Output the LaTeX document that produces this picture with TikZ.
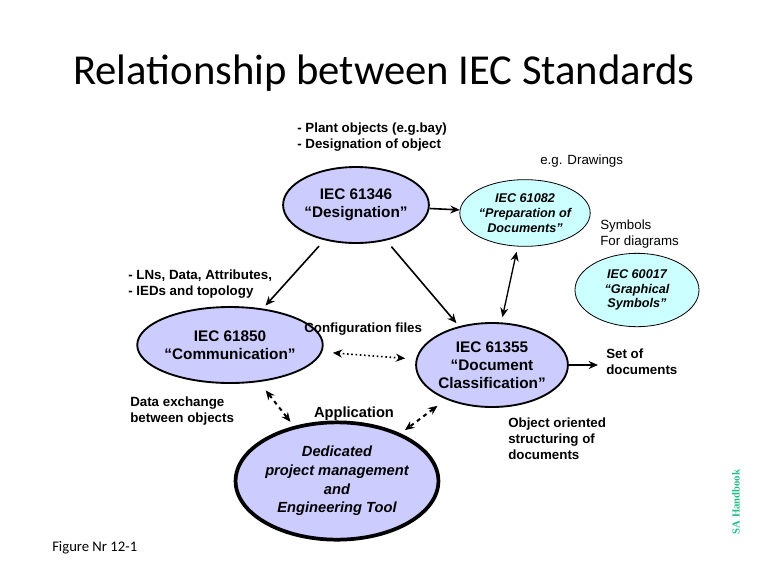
\documentclass[tikz,border=0pt]{standalone}
\usepackage{fontspec}
\setmainfont{Liberation Sans}
\newfontfamily\titlefont{Carlito}
\newfontfamily\serifb{Liberation Serif}
\usetikzlibrary{shapes.geometric,arrows.meta}
\begin{document}
\begin{tikzpicture}[x=0.75pt,y=-0.75pt,
  ell/.style={ellipse,draw,fill=lav,line width=1.4pt,align=center,inner sep=0pt,font=\bfseries\fontsize{11.5}{13.5}\selectfont},
  cyan/.style={ellipse,draw,fill=lcyan,line width=0.6pt,align=center,inner sep=0pt,font=\bfseries\itshape\fontsize{9.5}{11}\selectfont},
  lbl/.style={align=left,anchor=north west,inner sep=0pt,font=\bfseries\fontsize{10}{12}\selectfont},
  arr/.style={-{Stealth[length=7pt,width=6pt]},line width=1.2pt},
  darr/.style={{Stealth[length=7pt,width=6pt]}-{Stealth[length=7pt,width=6pt]},line width=1.2pt}]
\definecolor{lav}{HTML}{CCCCFF}
\definecolor{lcyan}{HTML}{CCFFFF}
\definecolor{sagreen}{HTML}{22BB88}
\useasboundingbox (0,0) rectangle (768,576);
\node (title) at (384,73) {\titlefont\fontsize{32}{36}\selectfont Relationship between IEC Standards};
\node[ell,minimum width=102pt,minimum height=57pt] (e1) at (356,205) {IEC 61346\\“Designation”};
\node[cyan,minimum width=90pt,minimum height=50pt] (e2) at (525,213) {IEC 61082\\“Preparation of\\Documents”};
\node[cyan,minimum width=93pt,minimum height=55pt] (e3) at (637,290) {IEC 60017\\“Graphical\\Symbols”};
\node[ell,minimum width=102pt,minimum height=57pt] (e4) at (230,345) {IEC 61850\\“Communication”};
\node[ell,minimum width=112pt,minimum height=63pt] (e5) at (492,365) {IEC 61355\\“Document\\Classification”};
\node[ell,line width=2.8pt,minimum width=140pt,minimum height=88pt,font=\bfseries\itshape\fontsize{11}{14}\selectfont] (e6) at (337,481) {Dedicated\\project management\\and\\Engineering Tool};
\node[lbl] (t1) at (297,123) {- Plant objects (e.g.bay)\\- Designation of object};
\node[lbl,font=\fontsize{10}{12}\selectfont] (t2) at (540,155) {e.g. Drawings};
\node[lbl,font=\fontsize{10}{12}\selectfont] (t3) at (600,220) {Symbols\\For diagrams};
\node[lbl] (t4) at (128,270) {- LNs, Data, Attributes,\\- IEDs and topology};
\node[lbl] (t5) at (304,323) {Configuration files};
\node[lbl] (t6) at (606,349) {Set of\\documents};
\node[lbl] (t7) at (130,397) {Data exchange\\between objects};
\node[font=\bfseries\fontsize{11}{12}\selectfont] (t8) at (354,414) {Application};
\node[lbl] (t9) at (508,418) {Object oriented\\structuring of\\documents};
\node[anchor=west,inner sep=0pt] (fig) at (52,548) {\titlefont\fontsize{11}{13}\selectfont Figure Nr 12-1};
\node[rotate=90,text=sagreen,font=\serifb\bfseries\fontsize{8}{9}\selectfont] (sa) at (736,502) {SA Handbook};
\coordinate (setp) at (598,365);
\draw[arr] (e1) -- (e2);
\draw[arr,shorten <=6pt,shorten >=3pt] (e1) -- (e4);
\draw[arr,shorten <=6pt,shorten >=3pt] (e1) -- (e5);
\draw[darr,line width=1pt,shorten <=4pt,shorten >=4pt] (e2) -- (e5);
\draw[darr,dotted,line width=1.2pt,shorten <=8pt,shorten >=8pt] (e4) -- (e5);
\draw[arr] (e5) -- (setp);
\draw[darr,dashed,line width=1.5pt,shorten <=8pt,shorten >=4pt] (e4) -- (e6);
\draw[darr,dashed,line width=1.5pt,shorten <=8pt,shorten >=4pt] (e5) -- (e6);
\end{tikzpicture}
\end{document}
